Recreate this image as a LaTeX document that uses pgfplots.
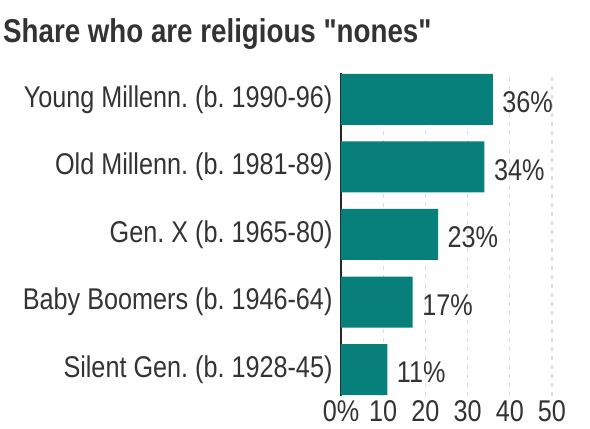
\documentclass[border=0pt]{standalone}
\usepackage{fontspec}
\setmainfont{Liberation Sans}[FakeStretch=0.84]
\newfontfamily\titlefont{Liberation Sans}[FakeStretch=0.84]
\usepackage{pgfplots}
\pgfplotsset{compat=1.18}
\definecolor{barteal}{HTML}{07807B}
\definecolor{txt}{HTML}{333333}
\definecolor{gridc}{HTML}{DDDDDD}
\frenchspacing

\begin{document}
\begin{tikzpicture}
	\useasboundingbox (-341pt,-33pt) rectangle (249pt,396pt);
	\begin{axis}[
		at={(0,0)},anchor=south west,
		scale only axis,width=211pt,height=323pt,
		xmin=0,xmax=50,ymin=-0.39,ymax=4.39,
		axis lines=left,
		x axis line style={draw=none},
		y axis line style={-,line width=2pt,color=black!85},
		xtick={0,10,20,30,40,50},xticklabels={0\%,10,20,30,40,50},
		ytick={0,1,2,3,4},
		yticklabels={Silent Gen. (b. 1928-45),Baby Boomers (b. 1946-64),Gen. X (b. 1965-80),Old Millenn. (b. 1981-89),Young Millenn. (b. 1990-96)},
		major tick length=0pt,
		tick style={draw=none},
		xmajorgrids,
		major grid style={gridc,line width=1.2pt,dash pattern=on 4pt off 5pt},
		ticklabel style={font=\fontsize{30}{32}\selectfont,text=txt},
		xticklabel style={yshift=-1pt},
		yticklabel style={xshift=-5pt},
		/pgf/number format/assume math mode=true,
		clip=false,
		xbar,bar width=51pt,
		point meta=x,
		nodes near coords={\pgfmathprintnumber{\pgfplotspointmeta}\%},
		nodes near coords style={font=\fontsize{30}{32}\selectfont,text=txt,anchor=west,xshift=6pt,yshift=-3pt},
	]
		\addplot[fill=barteal,draw=none] coordinates {(36,4) (34,3) (23,2) (17,1) (11,0)};
	\end{axis}
	\node[anchor=base west,inner sep=0pt,text=txt,font=\titlefont\fontsize{33}{36}\selectfont\bfseries] at (-338pt,353pt) {Share who are religious "nones"};
\end{tikzpicture}
\end{document}
